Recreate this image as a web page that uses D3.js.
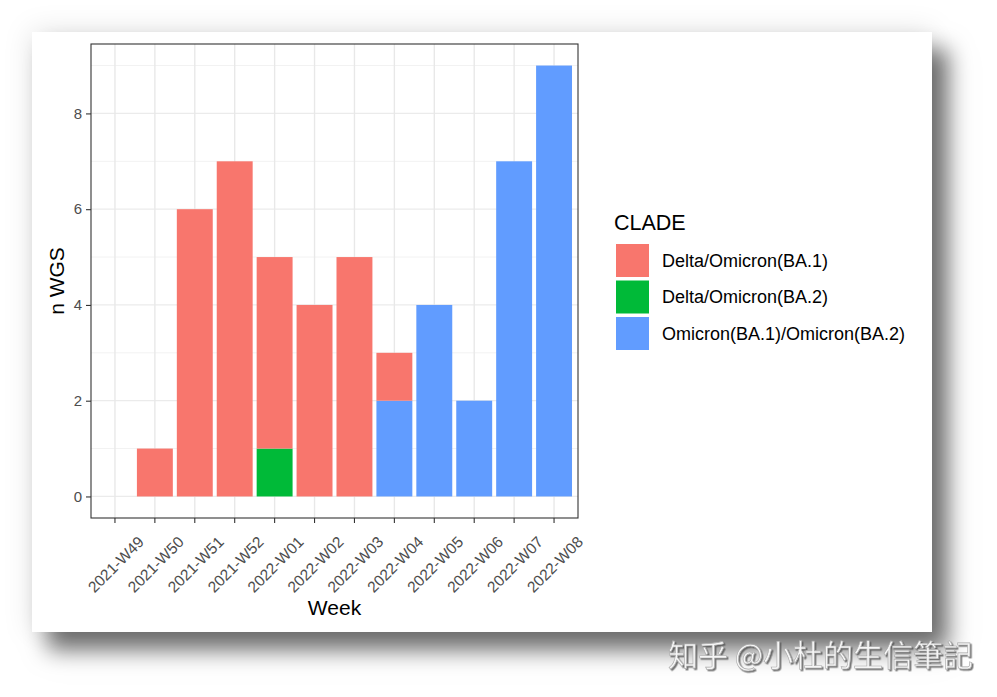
<!DOCTYPE html>
<html>
<head>
<meta charset="utf-8">
<script src="https://cdn.jsdelivr.net/npm/d3@7"></script>
<style>
  body { margin: 0; background: #ffffff; }
  svg { display: block; }
</style>
</head>
<body>
<div id="chart"></div>
<script>
// values
const weeks = ['2021-W49', '2021-W50', '2021-W51', '2021-W52', '2022-W01', '2022-W02',
  '2022-W03', '2022-W04', '2022-W05', '2022-W06', '2022-W07', '2022-W08'];
const clades = ['Delta/Omicron(BA.1)', 'Delta/Omicron(BA.2)', 'Omicron(BA.1)/Omicron(BA.2)'];
const deltaBA1 = [0, 1, 6, 7, 4, 4, 5, 1, 0, 0, 0, 0];
const deltaBA2 = [0, 0, 0, 0, 1, 0, 0, 0, 0, 0, 0, 0];
const omicronBA = [0, 0, 0, 0, 0, 0, 0, 2, 4, 2, 7, 9];
const yMajor = [0, 2, 4, 6, 8];
const yMinor = [1, 3, 5, 7, 9];
const colors = ['#F8766D', '#00BA38', '#619CFF'];

const W = 997, H = 697;
const panel = { left: 91, right: 578, top: 44, bottom: 518 };

const svg = d3.select('#chart').append('svg')
  .attr('width', W).attr('height', H)
  .attr('font-family', 'Liberation Sans, Arial, sans-serif');

// card shadow
const defs = svg.append('defs');
const f = defs.append('filter').attr('id', 'shadow')
  .attr('x', '-10%').attr('y', '-10%').attr('width', '125%').attr('height', '125%');
f.append('feDropShadow').attr('dx', 0).attr('dy', 0).attr('stdDeviation', 14)
  .attr('flood-color', '#000').attr('flood-opacity', 0.12);
f.append('feDropShadow').attr('dx', 16).attr('dy', 18).attr('stdDeviation', 11)
  .attr('flood-color', '#000').attr('flood-opacity', 0.55);

const emboss = defs.append('filter').attr('id', 'emboss');
emboss.append('feDropShadow').attr('dx', 1.5).attr('dy', 1.5).attr('stdDeviation', 0.6)
  .attr('flood-color', '#555').attr('flood-opacity', 0.8);

svg.append('rect')
  .attr('x', 32).attr('y', 32).attr('width', 900).attr('height', 600)
  .attr('fill', '#fff').attr('filter', 'url(#shadow)');

// scales
const x = d3.scaleBand()
  .domain(weeks)
  .range([panel.left, panel.right])
  .paddingInner(0.1)
  .paddingOuter(0.15);

const y = d3.scaleLinear()
  .domain([-0.45, 9.45])
  .range([panel.bottom, panel.top]);

const color = d3.scaleOrdinal().domain(clades).range(colors);

// grid
const g = svg.append('g');
g.selectAll('.minor').data(yMinor).join('line')
  .attr('x1', panel.left).attr('x2', panel.right)
  .attr('y1', d => y(d)).attr('y2', d => y(d))
  .attr('stroke', '#f2f2f2').attr('stroke-width', 1);
g.selectAll('.major').data(yMajor).join('line')
  .attr('x1', panel.left).attr('x2', panel.right)
  .attr('y1', d => y(d)).attr('y2', d => y(d))
  .attr('stroke', '#ebebeb').attr('stroke-width', 1.3);
g.selectAll('.vgrid').data(weeks).join('line')
  .attr('x1', d => x(d) + x.bandwidth() / 2).attr('x2', d => x(d) + x.bandwidth() / 2)
  .attr('y1', panel.top).attr('y2', panel.bottom)
  .attr('stroke', '#e8e8e8').attr('stroke-width', 1.4);

// stacked bars (first level on top, like ggplot)
const rows = weeks.map((w, i) => ({
  week: w,
  [clades[0]]: deltaBA1[i],
  [clades[1]]: deltaBA2[i],
  [clades[2]]: omicronBA[i]
}));
const stack = d3.stack().keys(clades.slice().reverse());
const series = stack(rows);

g.selectAll('.layer').data(series).join('g')
  .attr('fill', d => color(d.key))
  .selectAll('rect').data(d => d.filter(p => p[1] > p[0])).join('rect')
  .attr('x', d => x(d.data.week))
  .attr('width', x.bandwidth())
  .attr('y', d => y(d[1]))
  .attr('height', d => y(d[0]) - y(d[1]));

// panel border
svg.append('rect')
  .attr('x', panel.left).attr('y', panel.top)
  .attr('width', panel.right - panel.left).attr('height', panel.bottom - panel.top)
  .attr('fill', 'none').attr('stroke', '#333').attr('stroke-width', 1.1);

// axes
const yAxis = svg.append('g')
  .attr('transform', `translate(${panel.left},0)`)
  .call(d3.axisLeft(y).tickValues(yMajor).tickSize(5).tickPadding(4));
yAxis.select('.domain').remove();
yAxis.selectAll('line').attr('stroke', '#333').attr('stroke-width', 1.1);
yAxis.selectAll('text').attr('fill', '#4d4d4d').attr('font-size', 15)
  .attr('font-family', 'Liberation Sans, Arial, sans-serif');

const xAxis = svg.append('g')
  .attr('transform', `translate(0,${panel.bottom})`)
  .call(d3.axisBottom(x).tickSize(5));
xAxis.select('.domain').remove();
xAxis.selectAll('line').attr('stroke', '#333').attr('stroke-width', 1.1);
xAxis.selectAll('text')
  .attr('fill', '#4d4d4d').attr('font-size', 15.5)
  .attr('font-family', 'Liberation Sans, Arial, sans-serif')
  .attr('x', 0).attr('y', 0).attr('dy', 0)
  .attr('text-anchor', 'end')
  .attr('transform', 'translate(30,25) rotate(-45)');

// axis titles
svg.append('text')
  .attr('x', (panel.left + panel.right) / 2).attr('y', 615)
  .attr('text-anchor', 'middle').attr('font-size', 21).attr('fill', '#000')
  .text('Week');
svg.append('text')
  .attr('transform', `translate(64,${(panel.top + panel.bottom) / 2}) rotate(-90)`)
  .attr('text-anchor', 'middle').attr('font-size', 21).attr('fill', '#000')
  .text('n WGS');

// legend
const legend = svg.append('g').attr('transform', 'translate(615,0)');
legend.append('text')
  .attr('x', -1).attr('y', 230)
  .attr('font-size', 21.5).attr('fill', '#000')
  .text('CLADE');
const items = legend.selectAll('.item').data(clades).join('g')
  .attr('transform', (d, i) => `translate(0,${244 + i * 36.5})`);
items.append('rect')
  .attr('x', 1).attr('width', 33).attr('height', 33)
  .attr('fill', d => color(d));
items.append('text')
  .attr('x', 47).attr('y', 16.5).attr('dy', '0.35em')
  .attr('font-size', 18).attr('fill', '#000')
  .text(d => d);

// watermark
svg.append('text')
  .attr('x', 668).attr('y', 666)
  .attr('font-family', 'Noto Sans CJK SC, sans-serif')
  .attr('font-size', 30)
  .attr('fill', '#f6f6f6').attr('stroke', '#a8a8a8').attr('stroke-width', 0.6)
  .attr('filter', 'url(#emboss)')
  .text('知乎 @小杜的生信筆記');
</script>
</body>
</html>
